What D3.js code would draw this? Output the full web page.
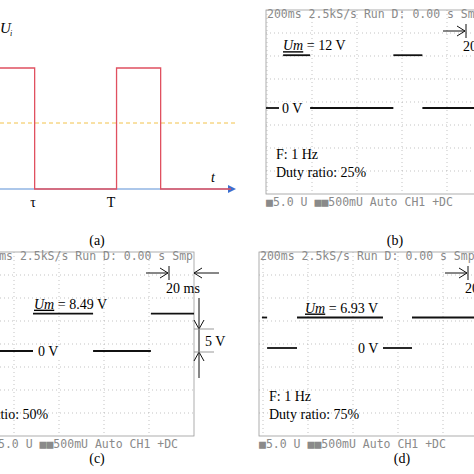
<!DOCTYPE html>
<html><head><meta charset="utf-8">
<script src="https://cdn.jsdelivr.net/npm/d3@7"></script>
<style>body{margin:0;background:#fff}svg{display:block}</style>
</head><body>
<script>
var W = 474, H = 474;

// (a) ideal pulse train: edges in time units, levels 0/1
var idealEdges = [-0.3, 0.33, 1.11, 1.53, 2.2];
var idealLevels = [1, 0, 1, 0];

// scope captures: edge times (ms from screen left), high voltage, duty
var scopeB = {um: 12, edges: [0, 76, 196, 566, 695, 1100], levels: [0, 1, 0, 1, 0], label: "Um = 12 V", duty: "Duty ratio: 25%"};
var scopeC = {um: 8.49, edges: [0, 1480, 1747, 2004, 2300], levels: [0, 1, 0, 1], label: "Um = 8.49 V", duty: "Duty ratio: 50%"};
var scopeD = {um: 6.93, edges: [13, 36, 169, 551, 680, 1000], levels: [1, 0, 1, 0, 1], label: "Um = 6.93 V", duty: "Duty ratio: 75%"};
var header = "200ms  2.5kS/s Run D: 0.00 s Smp";
var footer = "\u25A05.0 U  \u25A0\u25A0500mU  Auto CH1 +DC";

var svg = d3.select("body").append("svg").attr("width", W).attr("height", H)
  .style("font-family", "Liberation Serif");

// ---- panel (a)
var xa = d3.scaleLinear().domain([0, 2]).range([0, 210]);
var ya = d3.scaleLinear().domain([0, 1]).range([189, 68]);
var ga = svg.append("g");
ga.append("line").attr("x1", 0).attr("x2", 237).attr("y1", 123).attr("y2", 123)
  .attr("stroke", "#f2c24a").attr("stroke-dasharray", "4,3").attr("stroke-width", 1);
ga.append("line").attr("x1", 0).attr("x2", 228).attr("y1", ya(0)).attr("y2", ya(0))
  .attr("stroke", "#5b8fd6").attr("stroke-width", 1.2);
ga.append("path").attr("d", "M228,185L236,189L228,193Z").attr("fill", "#3b6fd0");
var pa = [];
idealLevels.forEach(function(l, i){ pa.push([xa(idealEdges[i]), ya(l)], [xa(idealEdges[i+1]), ya(l)]); });
ga.append("path").attr("d", d3.line()(pa)).attr("fill", "none").attr("stroke", "#e05060").attr("stroke-width", 1.3);
ga.append("text").attr("x", 0).attr("y", 33).attr("font-style", "italic").attr("font-size", 15).text("U");
ga.append("text").attr("x", 10).attr("y", 36).attr("font-style", "italic").attr("font-size", 8).text("i");
ga.append("text").attr("x", 211).attr("y", 182).attr("font-style", "italic").attr("font-size", 14).text("t");
ga.append("text").attr("x", 33).attr("y", 207).attr("text-anchor", "middle").attr("font-size", 14).text("\u03C4");
ga.append("text").attr("x", 111).attr("y", 207).attr("text-anchor", "middle").attr("font-size", 14).text("T");

function label(x, y, s){
  svg.append("text").attr("x", x).attr("y", y).attr("text-anchor", "middle").attr("font-size", 14).text(s);
}
label(97, 245, "(a)"); label(395, 245, "(b)"); label(97, 463, "(c)"); label(402, 463, "(d)");

// ---- scope panels
function mono(g, x, y, s, anchor){
  g.append("text").attr("x", x).attr("y", y).attr("font-family", "DejaVu Sans Mono")
    .attr("font-size", 11.5).attr("fill", "#8a8a8a").attr("text-anchor", anchor || "start").text(s);
}
function serifText(g, x, y, s){
  return g.append("text").attr("x", x).attr("y", y).attr("font-size", 14).text(s);
}
function scope(s, left, right, top, zeroY, opts){
  var g = svg.append("g");
  var bottom = top + 184;
  var x = d3.scaleLinear().domain([0, 200]).range([left, left + 45]);
  var y = d3.scaleLinear().domain([0, 5]).range([zeroY, zeroY - 22]);
  g.append("rect").attr("x", left).attr("y", top).attr("width", right - left).attr("height", bottom - top)
    .attr("fill", "none").attr("stroke", "#999").attr("stroke-width", 0.8);
  var vx = d3.range(-20, 20).map(function(i){ return left + opts.gridOff + i * 45; })
    .filter(function(v){ return v > left && v < right; });
  g.selectAll(".vg").data(vx).enter().append("line").attr("x1", d => d).attr("x2", d => d)
    .attr("y1", top).attr("y2", bottom).attr("stroke", "#aaa").attr("stroke-width", 0.7).attr("stroke-dasharray", "1,3");
  g.selectAll(".hg").data(d3.range(1, 8)).enter().append("line").attr("x1", left).attr("x2", right)
    .attr("y1", d => top + d * 23).attr("y2", d => top + d * 23).attr("stroke", "#aaa").attr("stroke-width", 0.7).attr("stroke-dasharray", "1,3");
  mono(g, opts.headX, top + 8, header, opts.anchor);
  mono(g, opts.footX, bottom + 12, footer, opts.anchor);
  s.levels.forEach(function(l, i){
    g.append("line").attr("x1", Math.max(left, x(s.edges[i]))).attr("x2", Math.min(right, x(s.edges[i+1])))
      .attr("y1", y(l ? s.um : 0)).attr("y2", y(l ? s.um : 0)).attr("stroke", "#111").attr("stroke-width", 1.8);
  });
  g.append("text").attr("x", opts.umX).attr("y", y(s.um) - 5).attr("font-size", 14)
    .html("<tspan font-style='italic' text-decoration='underline'>Um</tspan>" + s.label.slice(2));
  g.append("rect").attr("x", opts.zeroX - 3).attr("y", zeroY - 6).attr("width", 26).attr("height", 12).attr("fill", "#fff");
  serifText(g, opts.zeroX, zeroY + 5, "0 V");
  serifText(g, opts.fX, top + 149, "F: 1 Hz");
  serifText(g, opts.fX, top + 167, s.duty);
  // 20 ms marker
  g.append("line").attr("x1", opts.arrX).attr("x2", opts.arrX + 22).attr("y1", top + 21).attr("y2", top + 21).attr("stroke", "#111");
  g.append("path").attr("d", "M" + (opts.arrX + 14) + "," + (top + 16) + "L" + (opts.arrX + 22) + "," + (top + 21) + "L" + (opts.arrX + 14) + "," + (top + 26)).attr("fill", "none").attr("stroke", "#111");
  g.append("line").attr("x1", opts.arrX + 23).attr("x2", opts.arrX + 23).attr("y1", top + 14).attr("y2", top + 28).attr("stroke", "#111");
  serifText(g, opts.arrX + 20, top + 41, opts.msText);
  return g;
}

scope(scopeB, 266, 480, 10, 108, {gridOff: 46, headX: 267, footX: 266, umX: 283, zeroX: 282, fX: 276, arrX: 443, msText: "20"});
var gc = scope(scopeC, -300, 194, 252, 351, {gridOff: 44, headX: 193, footX: 178, anchor: "end", umX: 34, zeroX: 38, fX: -42, arrX: 146, msText: "20 ms"});
scope(scopeD, 259, 480, 252, 348, {gridOff: 49, headX: 260, footX: 259, umX: 305, zeroX: 358, fX: 269, arrX: 445, msText: "20"});

// extra markers in (c): right tick + left arrow and 5 V span
gc.append("line").attr("x1", 194).attr("x2", 219).attr("y1", 273).attr("y2", 273).attr("stroke", "#111");
gc.append("path").attr("d", "M202,268L194,273L202,278").attr("fill", "none").attr("stroke", "#111");
gc.append("line").attr("x1", 199).attr("x2", 199).attr("y1", 298).attr("y2", 378).attr("stroke", "#111");
gc.append("path").attr("d", "M194,320L199,329L204,320M194,361L199,352L204,361").attr("fill", "none").attr("stroke", "#111");
gc.append("line").attr("x1", 194).attr("x2", 214).attr("y1", 329).attr("y2", 329).attr("stroke", "#999");
gc.append("line").attr("x1", 194).attr("x2", 214).attr("y1", 352).attr("y2", 352).attr("stroke", "#999");
gc.append("text").attr("x", 205).attr("y", 346).attr("font-size", 14).text("5 V");
</script>
</body></html>
